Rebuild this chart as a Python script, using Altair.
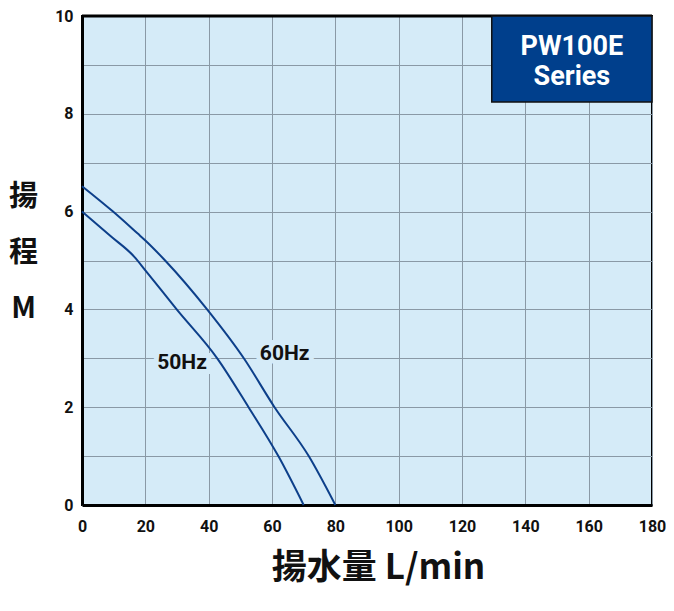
import altair as alt
import pandas as pd

# 60Hz curve
q60 = [0, 9.8, 17.6, 20, 26.25, 39.5, 51.1, 60.8, 71.6, 80]
h60 = [6.52, 6.0, 5.55, 5.41, 5.0, 4.0, 3.0, 2.0, 1.0, 0.0]
# 50Hz curve
q50 = [0, 9.0, 16.6, 20, 29.9, 42.7, 52.6, 62.0, 70]
h50 = [6.0, 5.5, 5.07, 4.8, 4.0, 3.0, 2.0, 1.0, 0.0]

labels = ["50Hz", "60Hz"]
label_x = [31.6, 64.0]
label_y = [2.9, 3.08]

series_name = ["PW100E", "Series"]

df = pd.DataFrame(
    {"q": q60 + q50, "h": h60 + h50, "s": ["60Hz"] * len(q60) + ["50Hz"] * len(q50)}
)
lab = pd.DataFrame({"t": labels, "x": label_x, "y": label_y})
box = pd.DataFrame({"x": [129.4], "x2": [180], "y": [8.24], "y2": [10]})
boxtxt = pd.DataFrame({"t": [series_name], "x": [154.7], "y": [9.37]})

FONT = "Roboto"
CJK = "Noto Sans CJK JP"
BG = "#d5ebf8"

xs = alt.Scale(domain=[0, 180], nice=False, zero=False)
ys = alt.Scale(domain=[0, 10], nice=False, zero=False)

xaxis = alt.Axis(
    values=list(range(0, 181, 20)),
    grid=True, gridColor="#8a99a6", gridWidth=1,
    ticks=False, labelPadding=13, labelFontSize=16, labelFontWeight="bold",
    labelFont=FONT, labelColor="#111", labelFlush=False,
    domainColor="#000", domainWidth=3,
    title="揚水量 L/min", titleFont=CJK, titleFontSize=35, titleFontWeight="bold",
    titleColor="#111", titlePadding=16, titleX=296,
)
yaxis = alt.Axis(
    values=list(range(0, 11, 1)),
    labelExpr="datum.value % 2 == 0 ? datum.label : ''",
    grid=True, gridColor="#8a99a6", gridWidth=1,
    ticks=False, labelPadding=9, labelFontSize=16, labelFontWeight="bold",
    labelFont=FONT, labelColor="#111", labelFlush=False,
    domainColor="#000", domainWidth=3,
    title=["揚", "程", "M"], titleFont=CJK, titleFontSize=29, titleFontWeight="bold",
    titleColor="#111", titleAngle=0, titleLineHeight=56, titleAlign="center",
    titleBaseline="middle", titleX=-59, titleY=180,
)

lines = alt.Chart(df).mark_line(color="#0d3f8a", strokeWidth=2, interpolate="monotone").encode(
    x=alt.X("q:Q", scale=xs, axis=xaxis),
    y=alt.Y("h:Q", scale=ys, axis=yaxis),
    detail="s:N",
)

top = alt.Chart(pd.DataFrame({"y": [10]})).mark_rule(color="#000", strokeWidth=3).encode(
    y=alt.Y("y:Q", scale=ys)
)

halo = alt.Chart(lab).mark_text(
    font=FONT, fontSize=21, fontWeight="bold", color=BG,
    stroke=BG, strokeWidth=10,
).encode(x=alt.X("x:Q", scale=xs), y=alt.Y("y:Q", scale=ys), text="t:N")

txt = alt.Chart(lab).mark_text(
    font=FONT, fontSize=21, fontWeight="bold", color="#111"
).encode(x=alt.X("x:Q", scale=xs), y=alt.Y("y:Q", scale=ys), text="t:N")

rect = alt.Chart(box).mark_rect(color="#003f8c", stroke="#111", strokeWidth=1.5).encode(
    x=alt.X("x:Q", scale=xs), x2="x2:Q", y=alt.Y("y:Q", scale=ys), y2="y2:Q"
)

btxt = alt.Chart(boxtxt).mark_text(
    font=FONT, fontSize=27, fontWeight="bold", color="#ffffff", lineHeight=30, baseline="middle"
).encode(x=alt.X("x:Q", scale=xs), y=alt.Y("y:Q", scale=ys), text="t")

chart = alt.layer(lines, top, halo, txt, rect, btxt).properties(
    width=570, height=489,
    autosize=alt.AutoSizeParams(type="none"),
    padding={"left": 74, "top": 8, "right": 14, "bottom": 90},
).configure_view(fill=BG, stroke="#000", strokeWidth=2)

chart.save("out.html", embed_options={"renderer": "svg", "actions": False})
